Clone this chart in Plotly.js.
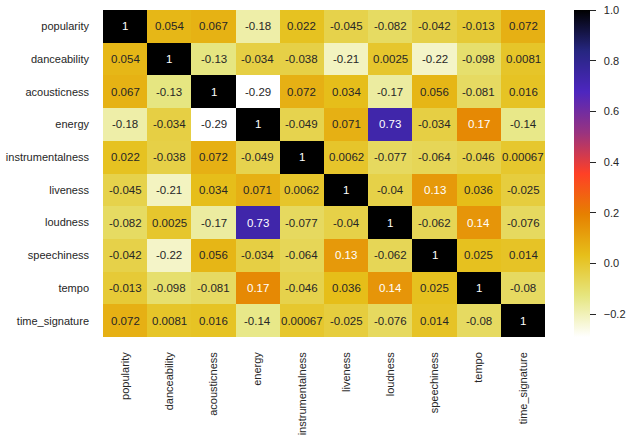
<!DOCTYPE html>
<html>
<head>
<meta charset="utf-8">
<script src="https://cdn.plot.ly/plotly-3.0.1.min.js"></script>
<style>html,body{margin:0;padding:0;background:#fff;}#chart{width:636px;height:440px;}</style>
</head>
<body>
<div id="chart"></div>
<script>
var features = ["popularity","danceability","acousticness","energy","instrumentalness","liveness","loudness","speechiness","tempo","time_signature"];

var popularity       = [1, 0.054, 0.067, -0.18, 0.022, -0.045, -0.082, -0.042, -0.013, 0.072];
var danceability     = [0.054, 1, -0.13, -0.034, -0.038, -0.21, 0.0025, -0.22, -0.098, 0.0081];
var acousticness     = [0.067, -0.13, 1, -0.29, 0.072, 0.034, -0.17, 0.056, -0.081, 0.016];
var energy           = [-0.18, -0.034, -0.29, 1, -0.049, 0.071, 0.73, -0.034, 0.17, -0.14];
var instrumentalness = [0.022, -0.038, 0.072, -0.049, 1, 0.0062, -0.077, -0.064, -0.046, 0.00067];
var liveness         = [-0.045, -0.21, 0.034, 0.071, 0.0062, 1, -0.04, 0.13, 0.036, -0.025];
var loudness         = [-0.082, 0.0025, -0.17, 0.73, -0.077, -0.04, 1, -0.062, 0.14, -0.076];
var speechiness      = [-0.042, -0.22, 0.056, -0.034, -0.064, 0.13, -0.062, 1, 0.025, 0.014];
var tempo            = [-0.013, -0.098, -0.081, 0.17, -0.046, 0.036, 0.14, 0.025, 1, -0.08];
var time_signature   = [0.072, 0.0081, 0.016, -0.14, 0.00067, -0.025, -0.076, 0.014, -0.08, 1];

var cbTickVals = [-0.2, 0.0, 0.2, 0.4, 0.6, 0.8, 1.0];
var cbTickText = ["\u22120.2", "0.0", "0.2", "0.4", "0.6", "0.8", "1.0"];

var z = [popularity, danceability, acousticness, energy, instrumentalness, liveness, loudness, speechiness, tempo, time_signature];

// CMRmap reversed
var cmapStops = [
  [0.000, [255,255,255]],
  [0.125, [229.5,229.5,127.5]],
  [0.250, [229.5,191.25,25.5]],
  [0.375, [229.5,127.5,0]],
  [0.500, [255,63.75,38.25]],
  [0.625, [153,51,127.5]],
  [0.750, [76.5,38.25,191.25]],
  [0.875, [38.25,38.25,127.5]],
  [1.000, [0,0,0]]
];
var colorscale = cmapStops.map(function(s){return [s[0], 'rgb(' + s[1].map(Math.round).join(',') + ')'];});

var zmin = Math.min.apply(null, z.map(function(r){return Math.min.apply(null, r);}));
var zmax = Math.max.apply(null, z.map(function(r){return Math.max.apply(null, r);}));

function colorAt(v){
  var t = (v - zmin) / (zmax - zmin);
  t = Math.max(0, Math.min(1, t));
  for (var i = 0; i < cmapStops.length - 1; i++){
    var a = cmapStops[i], b = cmapStops[i+1];
    if (t <= b[0]){
      var f = (t - a[0]) / (b[0] - a[0]);
      return [0,1,2].map(function(k){return a[1][k] + f*(b[1][k]-a[1][k]);});
    }
  }
  return cmapStops[cmapStops.length-1][1];
}
function lum(c){
  var l = c.map(function(x){x = x/255; return x <= 0.03928 ? x/12.92 : Math.pow((x+0.055)/1.055, 2.4);});
  return 0.2126*l[0] + 0.7152*l[1] + 0.0722*l[2];
}
function fmt(v){ return parseFloat(v.toPrecision(2)).toString(); }

var annotations = [];
for (var i = 0; i < features.length; i++){
  for (var j = 0; j < features.length; j++){
    var v = z[i][j];
    annotations.push({
      x: features[j], y: features[i], xref: 'x', yref: 'y',
      text: fmt(v), showarrow: false,
      font: {family: 'Liberation Sans, Arial, sans-serif', size: 11.5, color: lum(colorAt(v)) > 0.408 ? '#262626' : '#ffffff'}
    });
  }
}

var trace = {
  type: 'heatmap',
  x: features, y: features, z: z,
  colorscale: colorscale, zmin: zmin, zmax: zmax,
  xgap: 0, ygap: 0,
  hoverinfo: 'skip',
  colorbar: {
    x: 1.0626, xanchor: 'left', xpad: 0,
    y: 0, yanchor: 'bottom', ypad: 0,
    len: 1, lenmode: 'fraction',
    thickness: 16, outlinewidth: 0,
    tickmode: 'array', tickvals: cbTickVals,
    ticktext: cbTickText.map(function(s){return '\u00a0\u00a0' + s;}),
    ticks: 'outside', ticklen: 6, tickwidth: 1, tickcolor: '#262626',
    tickfont: {family: 'Liberation Sans, Arial, sans-serif', size: 11, color: '#262626'}
  }
};

var layout = {
  width: 636, height: 440,
  margin: {l: 103, r: 86, t: 10, b: 103},
  paper_bgcolor: '#ffffff', plot_bgcolor: '#ffffff',
  font: {family: 'Liberation Sans, Arial, sans-serif', size: 11, color: '#262626'},
  xaxis: {type: 'category', tickangle: -90, ticks: '', showgrid: false, zeroline: false, showline: false,
          ticklabelstandoff: 12, tickfont: {size: 11, color: '#262626'}},
  yaxis: {type: 'category', autorange: 'reversed', ticks: '', showgrid: false, zeroline: false, showline: false,
          ticklabelstandoff: 13, tickfont: {size: 11, color: '#262626'}},
  annotations: annotations,
  showlegend: false
};

Plotly.newPlot('chart', [trace], layout, {displayModeBar: false, staticPlot: true});
</script>
</body>
</html>
